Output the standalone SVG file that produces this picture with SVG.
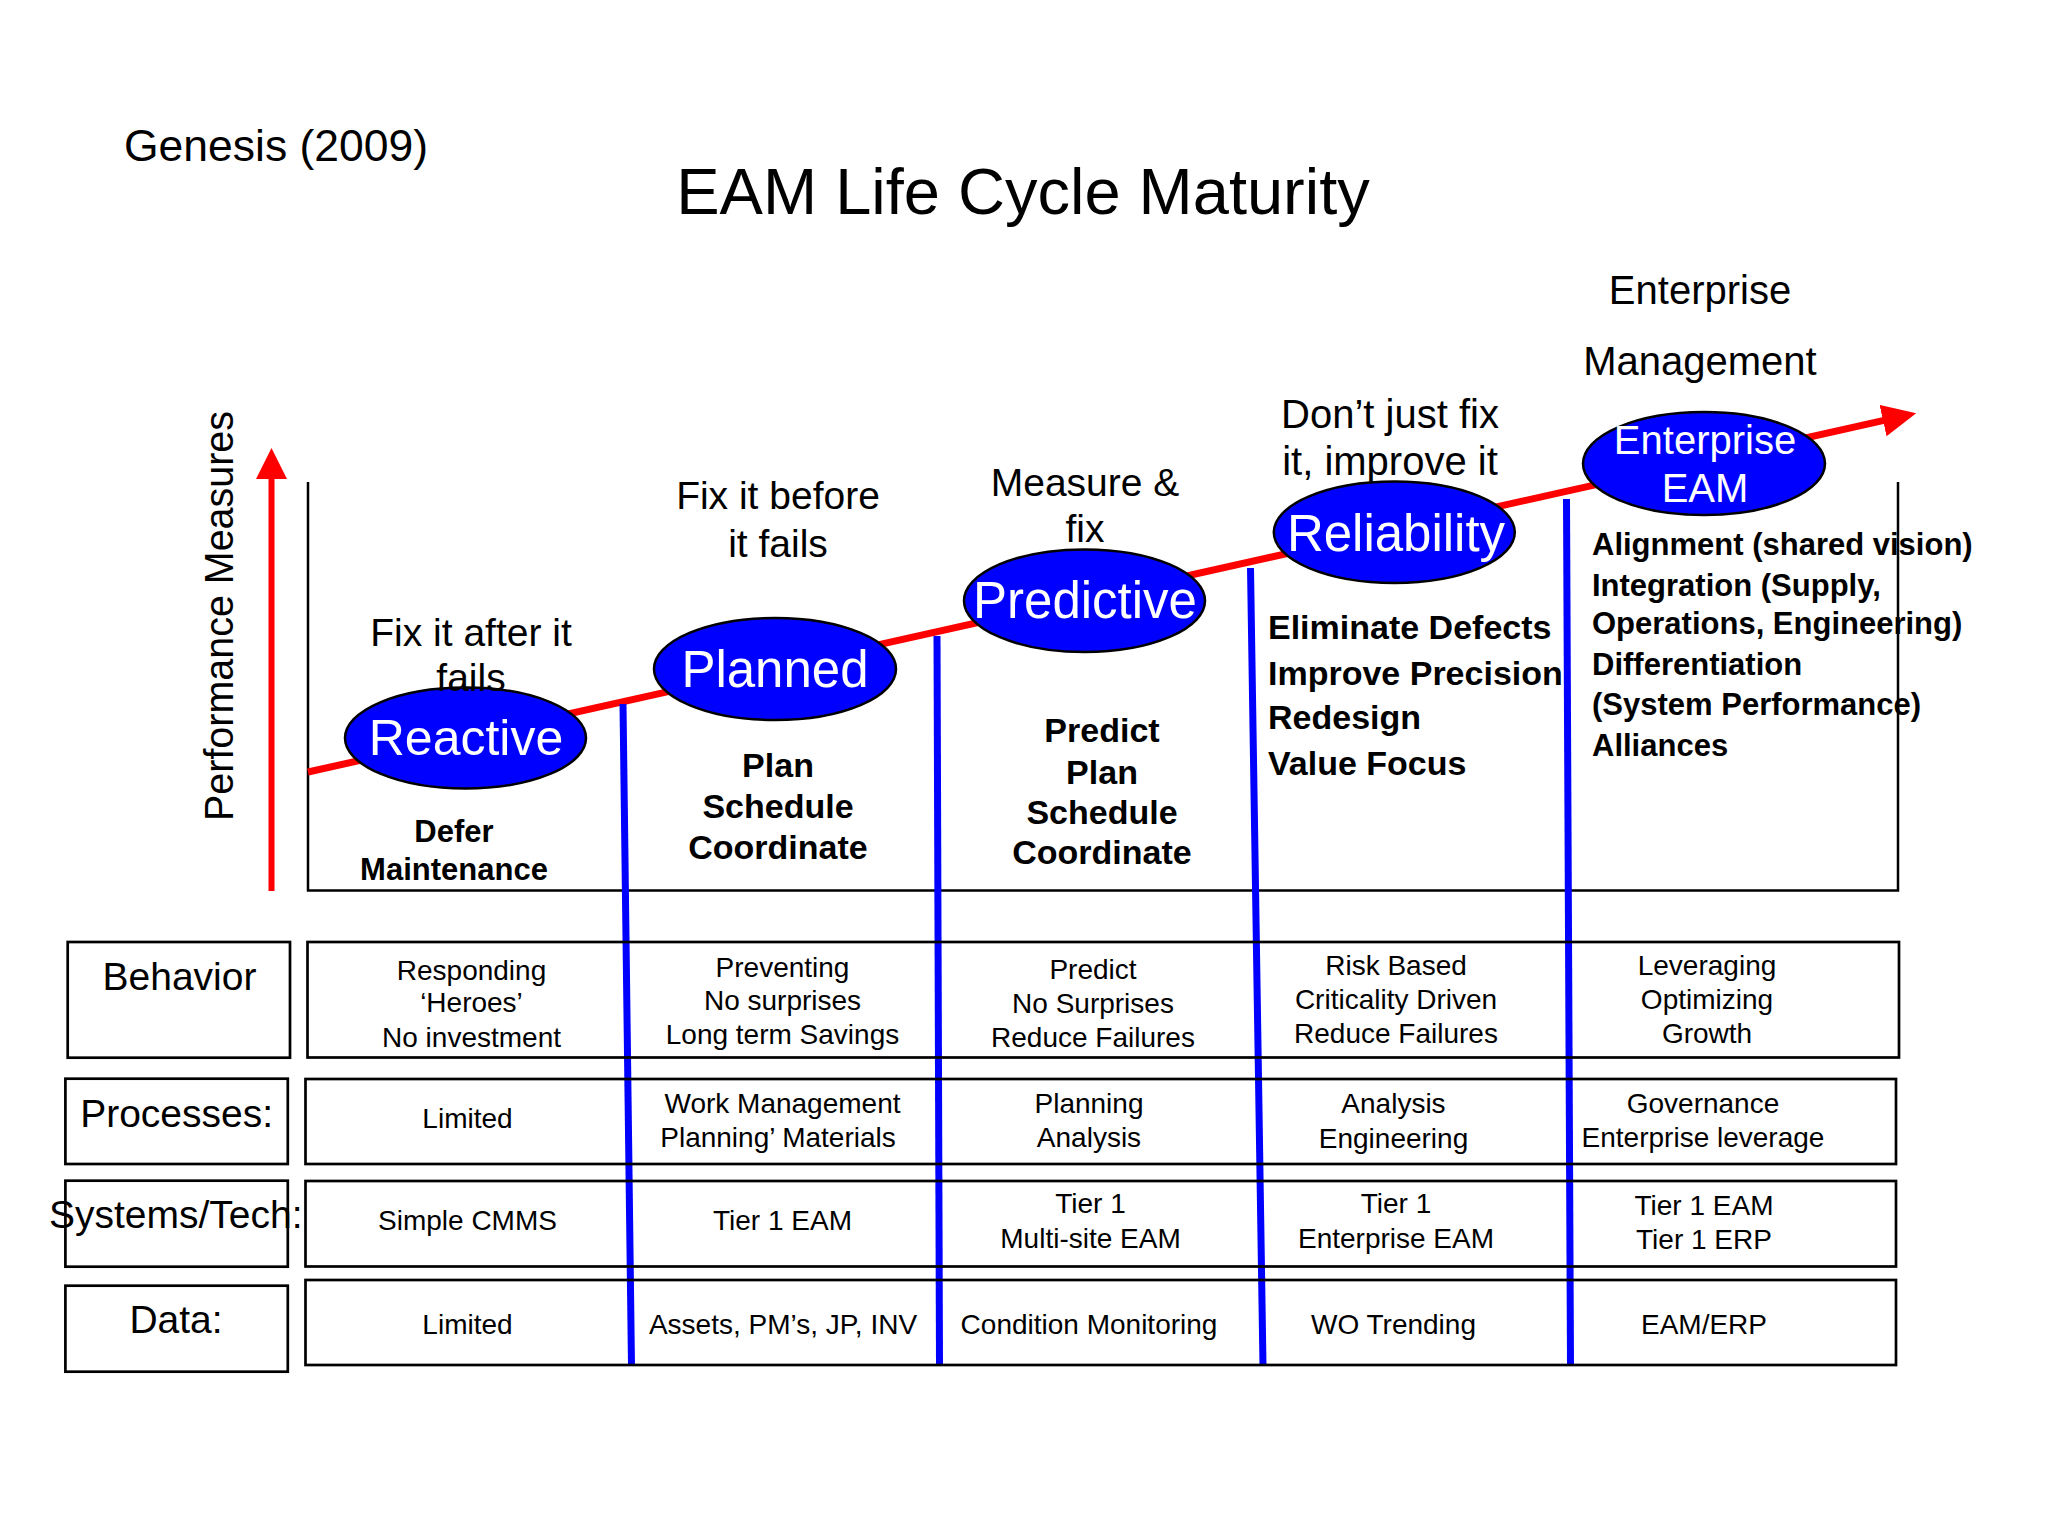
<svg xmlns="http://www.w3.org/2000/svg" width="2048" height="1536" viewBox="0 0 2048 1536">
<style>
text{font-family:"Liberation Sans",Arial,sans-serif;fill:#000}
.c{text-anchor:middle}
.lbl{font-size:39px}
.cell{font-size:28px;text-anchor:middle}
.b{font-weight:bold}
.ew{fill:#fff;text-anchor:middle}
.box{fill:none;stroke:#000;stroke-width:2.7}
.stage{fill:#0000ff;stroke:#000;stroke-width:2.5}
.blue{stroke:#0000ff;stroke-width:7;fill:none}
.frame{fill:none;stroke:#000;stroke-width:2.5}
</style>
<defs>
<marker id="redHead" markerUnits="userSpaceOnUse" markerWidth="40" markerHeight="40" refX="1" refY="16" orient="auto">
<path d="M0,0 L34,16 L0,32 Z" fill="#ff0000"/>
</marker>
</defs>
<rect width="2048" height="1536" fill="#fff"/>

<g id="titles">
<text x="124" y="161" style="font-size:45px" textLength="304" lengthAdjust="spacingAndGlyphs">Genesis (2009)</text>
<text x="1023" y="214" class="c" style="font-size:65px">EAM Life Cycle Maturity</text>
</g>

<g id="axis">
<text transform="translate(233,616) rotate(-90)" class="c" style="font-size:41px" textLength="410" lengthAdjust="spacingAndGlyphs">Performance Measures</text>
<line x1="271.5" y1="891" x2="271.5" y2="476" stroke="#ff0000" stroke-width="6"/>
<path d="M256,479 L287,479 L271.5,448 Z" fill="#ff0000"/>
<path class="frame" d="M308,482 L308,890.5 L1898,890.5 L1898,482"/>
</g>

<g id="connectors">
<line x1="308" y1="772" x2="1884" y2="420.4" stroke="#ff0000" stroke-width="7" marker-end="url(#redHead)"/>
<line class="blue" x1="623" y1="704" x2="631.5" y2="1366"/>
<line class="blue" x1="937" y1="636" x2="939.5" y2="1366"/>
<line class="blue" x1="1250.5" y1="568" x2="1263" y2="1366"/>
<line class="blue" x1="1566.5" y1="499" x2="1570.5" y2="1366"/>
</g>

<g id="stage-reactive">
<text x="471" y="646" class="c" style="font-size:39px">Fix it after it</text>
<ellipse class="stage" cx="465.5" cy="738" rx="120.5" ry="50.5"/>
<text x="471" y="691" class="c" style="font-size:39px">fails</text>
<text x="466" y="755" class="ew" style="font-size:50px">Reactive</text>
<text x="454" y="842" class="c b" style="font-size:31px">Defer</text>
<text x="454" y="880" class="c b" style="font-size:31px">Maintenance</text>
</g>

<g id="stage-planned">
<text x="778" y="509" class="c" style="font-size:39px">Fix it before</text>
<text x="778" y="557" class="c" style="font-size:39px">it fails</text>
<ellipse class="stage" cx="775" cy="669" rx="121" ry="51"/>
<text x="775" y="687" class="ew" style="font-size:51px">Planned</text>
<text x="778" y="777" class="c b" style="font-size:34px">Plan</text>
<text x="778" y="818" class="c b" style="font-size:34px">Schedule</text>
<text x="778" y="859" class="c b" style="font-size:34px">Coordinate</text>
</g>

<g id="stage-predictive">
<text x="1085" y="496" class="c" style="font-size:39px">Measure &amp;</text>
<text x="1085" y="542" class="c" style="font-size:39px">fix</text>
<ellipse class="stage" cx="1084.5" cy="600.7" rx="120.5" ry="51.3"/>
<text x="1085" y="618" class="ew" style="font-size:51px">Predictive</text>
<text x="1102" y="742" class="c b" style="font-size:34px">Predict</text>
<text x="1102" y="784" class="c b" style="font-size:34px">Plan</text>
<text x="1102" y="824" class="c b" style="font-size:34px">Schedule</text>
<text x="1102" y="864" class="c b" style="font-size:34px">Coordinate</text>
</g>

<g id="stage-reliability">
<text x="1390" y="428" class="c" style="font-size:40px">Don’t just fix</text>
<text x="1390" y="475" class="c" style="font-size:40px">it, improve it</text>
<ellipse class="stage" cx="1394.3" cy="532.3" rx="120.5" ry="50.7"/>
<text x="1396" y="550.5" class="ew" style="font-size:51px">Reliability</text>
<text x="1268" y="639" class="b" style="font-size:34px">Eliminate Defects</text>
<text x="1268" y="685" class="b" style="font-size:34px">Improve Precision</text>
<text x="1268" y="729" class="b" style="font-size:34px">Redesign</text>
<text x="1268" y="775" class="b" style="font-size:34px">Value Focus</text>
</g>

<g id="stage-enterprise">
<text x="1700" y="304" class="c" style="font-size:40px">Enterprise</text>
<text x="1700" y="375" class="c" style="font-size:40px">Management</text>
<ellipse class="stage" cx="1704" cy="463.5" rx="121" ry="51.5"/>
<text x="1705" y="454" class="ew" style="font-size:40px">Enterprise</text>
<text x="1705" y="502" class="ew" style="font-size:40px">EAM</text>
<text x="1592" y="555" class="b" style="font-size:31px">Alignment (shared vision)</text>
<text x="1592" y="596" class="b" style="font-size:31px">Integration (Supply,</text>
<text x="1592" y="634" class="b" style="font-size:31px">Operations, Engineering)</text>
<text x="1592" y="675" class="b" style="font-size:31px">Differentiation</text>
<text x="1592" y="715" class="b" style="font-size:31px">(System Performance)</text>
<text x="1592" y="756" class="b" style="font-size:31px">Alliances</text>
</g>

<g id="row-behavior">
<rect class="box" x="67.7" y="942" width="222.3" height="115.7"/>
<text x="179.5" y="990" class="c lbl">Behavior</text>
<rect class="box" x="307.5" y="942" width="1591.5" height="115.5"/>
<text x="471.5" y="980" class="cell">Responding</text>
<text x="471.5" y="1012" class="cell">‘Heroes’</text>
<text x="471.5" y="1047" class="cell">No investment</text>
<text x="782.5" y="977" class="cell">Preventing</text>
<text x="782.5" y="1010" class="cell">No surprises</text>
<text x="782.5" y="1044" class="cell">Long term Savings</text>
<text x="1093" y="979" class="cell">Predict</text>
<text x="1093" y="1013" class="cell">No Surprises</text>
<text x="1093" y="1047" class="cell">Reduce Failures</text>
<text x="1396" y="975" class="cell">Risk Based</text>
<text x="1396" y="1009" class="cell">Criticality Driven</text>
<text x="1396" y="1043" class="cell">Reduce Failures</text>
<text x="1707" y="975" class="cell">Leveraging</text>
<text x="1707" y="1009" class="cell">Optimizing</text>
<text x="1707" y="1043" class="cell">Growth</text>
</g>

<g id="row-processes">
<rect class="box" x="65.4" y="1078.7" width="222.4" height="85.3"/>
<text x="176.6" y="1127" class="c lbl">Processes:</text>
<rect class="box" x="305.5" y="1079" width="1590.5" height="85"/>
<text x="467.5" y="1128" class="cell">Limited</text>
<text x="782.5" y="1113" class="cell">Work Management</text>
<text x="778" y="1147" class="cell">Planning’ Materials</text>
<text x="1089" y="1113" class="cell">Planning</text>
<text x="1089" y="1147" class="cell">Analysis</text>
<text x="1393.5" y="1113" class="cell">Analysis</text>
<text x="1393.5" y="1148" class="cell">Engineering</text>
<text x="1703" y="1113" class="cell">Governance</text>
<text x="1703" y="1147" class="cell">Enterprise leverage</text>
</g>

<g id="row-systems">
<rect class="box" x="65.4" y="1180.7" width="222.4" height="86"/>
<text x="175.7" y="1228" class="c lbl">Systems/Tech:</text>
<rect class="box" x="305.5" y="1181" width="1590.5" height="85.5"/>
<text x="467.5" y="1230" class="cell">Simple CMMS</text>
<text x="782.5" y="1230" class="cell">Tier 1 EAM</text>
<text x="1090.5" y="1213" class="cell">Tier 1</text>
<text x="1090.5" y="1248" class="cell">Multi-site EAM</text>
<text x="1396" y="1213" class="cell">Tier 1</text>
<text x="1396" y="1248" class="cell">Enterprise EAM</text>
<text x="1704" y="1215" class="cell">Tier 1 EAM</text>
<text x="1704" y="1249" class="cell">Tier 1 ERP</text>
</g>

<g id="row-data">
<rect class="box" x="65.4" y="1285.7" width="222.4" height="86"/>
<text x="176" y="1333" class="c lbl">Data:</text>
<rect class="box" x="305.5" y="1280" width="1590.5" height="85"/>
<text x="467.5" y="1334" class="cell">Limited</text>
<text x="783" y="1334" class="cell">Assets, PM’s, JP, INV</text>
<text x="1089" y="1334" class="cell">Condition Monitoring</text>
<text x="1393.5" y="1334" class="cell">WO Trending</text>
<text x="1704" y="1334" class="cell">EAM/ERP</text>
</g>
</svg>
